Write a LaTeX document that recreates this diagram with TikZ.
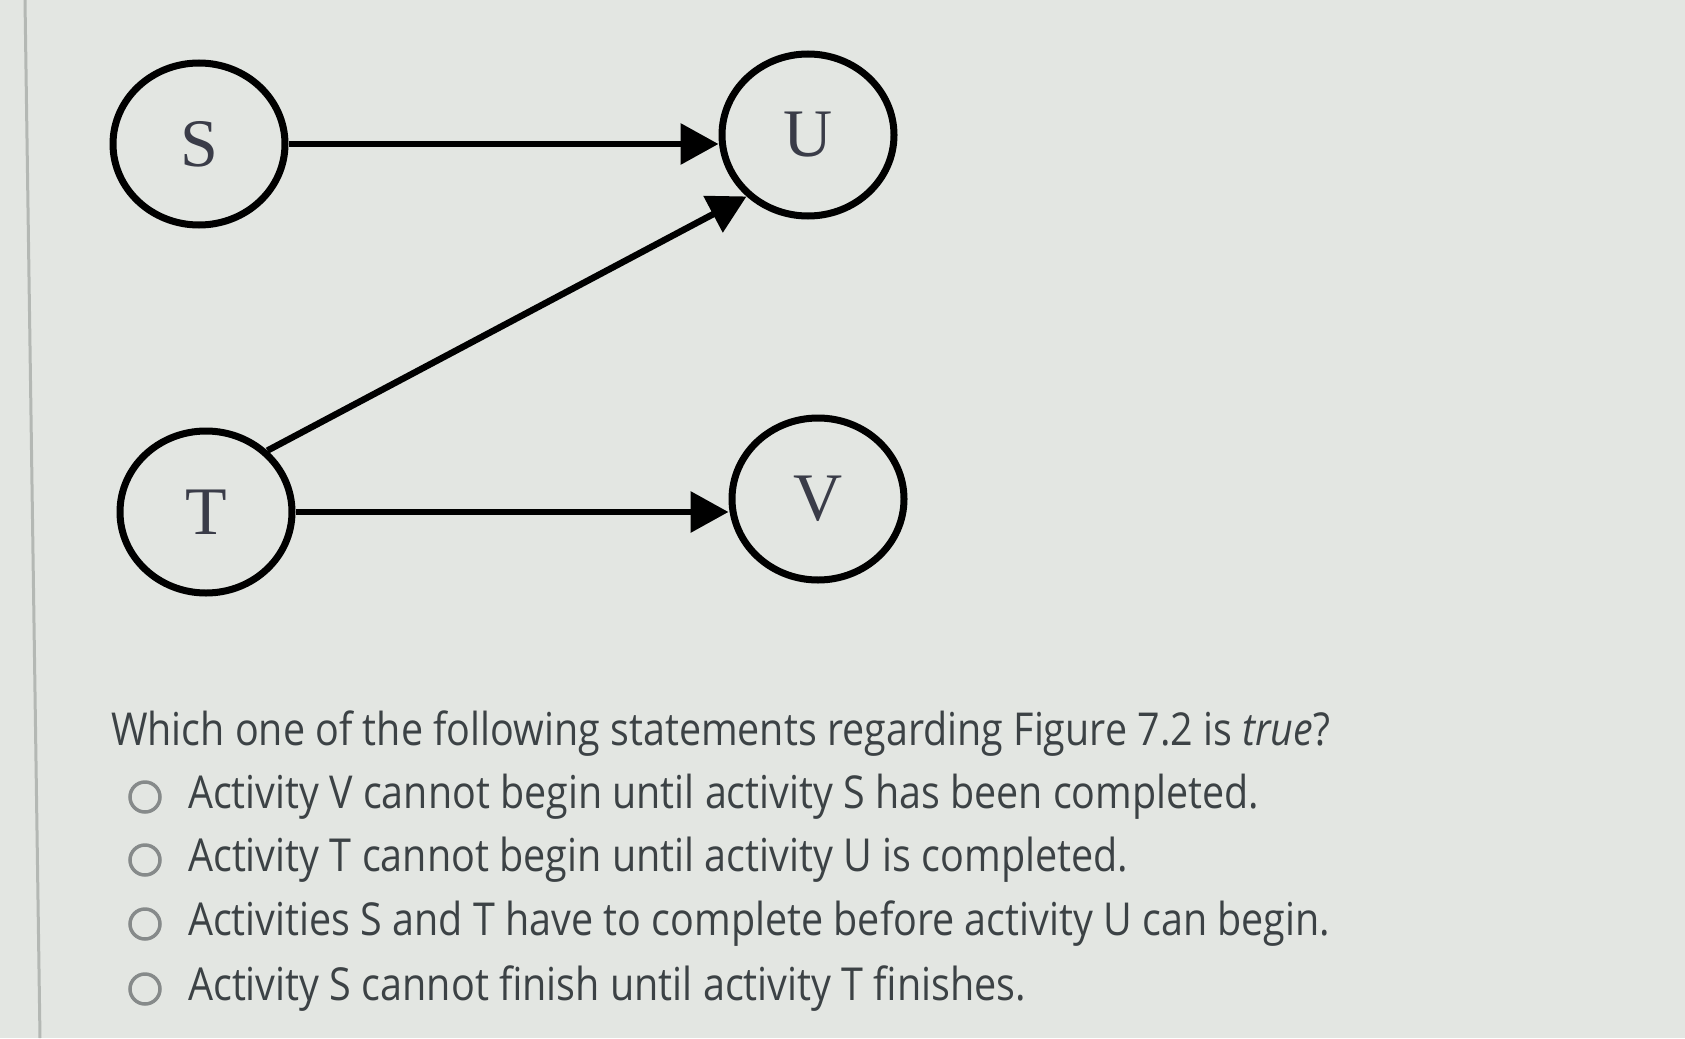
\documentclass[tikz,border=0pt]{standalone}
\usepackage{fontspec}
\setmainfont{Open Sans}
\newfontfamily\serifletters{Liberation Serif}
\usetikzlibrary{shapes.geometric,arrows.meta}
\definecolor{bg}{HTML}{E3E6E2}
\definecolor{txt}{HTML}{3C4245}
\definecolor{ltr}{HTML}{3A3C48}
\definecolor{radio}{HTML}{868A8A}
\definecolor{edge}{HTML}{B4B8B4}
\tikzset{
  act/.style={ellipse, draw=black, line width=7pt, inner sep=0pt,
    minimum width=172pt, minimum height=162pt,
    font=\serifletters\fontsize{68}{68}\selectfont, text=ltr},
  conn/.style={line width=6.5pt, -{Triangle[length=38pt,width=40pt]}},
  radiobtn/.style={circle, draw=radio, line width=3.5pt, minimum size=30pt, inner sep=0pt},
  opt/.style={anchor=west, inner sep=0pt, text=txt},
}
\newcommand{\qline}[2]{\scalebox{1}[1.15]{\resizebox{#1}{!}{\fontsize{40}{48}\selectfont #2}}}
\begin{document}
\begin{tikzpicture}[x=1pt,y=-1pt]
\fill[bg] (0,0) rectangle (1685,1038);
\useasboundingbox (0,0) rectangle (1685,1038);
\coordinate (e1) at (25,0);
\coordinate (e2) at (40,1038);
\draw[edge, line width=3pt] (e1) -- (e2);

\node[act] (S) at (199,144) {S};
\node[act] (U) at (808,135) {U};
\node[act] (T) at (206,512) {T};
\node[act] (V) at (818,499) {V};

\draw[conn] (S.east) -- (S.east -| U.west);
\draw[conn] (T.45) -- (U.225);
\draw[conn] (T.east) -- (T.east -| V.west);

\node[opt] (q) at (111,734) {\qline{1219pt}{Which one of the following statements regarding Figure 7.2 is \textit{true}?}};

\node[radiobtn] (r1) at (145,797) {};
\node[radiobtn] (r2) at (145,860) {};
\node[radiobtn] (r3) at (145,924) {};
\node[radiobtn] (r4) at (145,989) {};

\node[opt] (o1) at (188,797) {\qline{1071pt}{Activity V cannot begin until activity S has been completed.}};
\node[opt] (o2) at (188,860) {\qline{940pt}{Activity T cannot begin until activity U is completed.}};
\node[opt] (o3) at (188,924) {\qline{1142pt}{Activities S and T have to complete before activity U can begin.}};
\node[opt] (o4) at (188,989) {\qline{838pt}{Activity S cannot finish until activity T finishes.}};
\end{tikzpicture}
\end{document}
